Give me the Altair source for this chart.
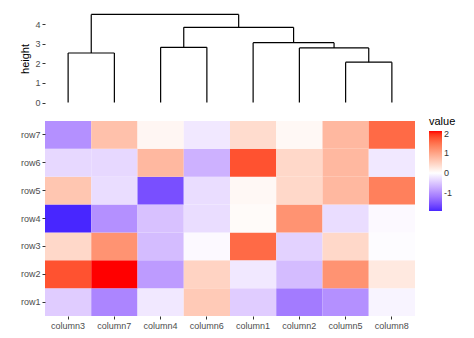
import altair as alt
import pandas as pd

columns = ["column3", "column7", "column4", "column6", "column1", "column2", "column5", "column8"]
rows = ["row1", "row2", "row3", "row4", "row5", "row6", "row7"]

row7 = [-1.0, 0.7, 0.1, -0.2, 0.4, 0.08, 0.8, 1.6]
row6 = [-0.35, -0.35, 0.8, -0.7, 1.8, 0.45, 0.8, -0.2]
row5 = [0.65, -0.3, -1.6, -0.3, 0.08, 0.45, 0.8, 1.4]
row4 = [-1.94, -1.0, -0.55, -0.3, 0.05, 1.2, -0.3, -0.05]
row3 = [0.45, 1.2, -0.6, -0.05, 1.6, -0.4, 0.45, -0.03]
row2 = [1.8, 2.15, -0.9, 0.5, -0.2, -0.6, 1.2, 0.25]
row1 = [-0.45, -1.1, -0.2, 0.6, -0.45, -1.2, -1.0, -0.1]
row_values = [row1, row2, row3, row4, row5, row6, row7]

# dendrogram merges: (left, right, height); "mN" refers to the N-th merge
merges = [
    ("column5", "column8", 2.06),
    ("column3", "column7", 2.53),
    ("column2", "m0", 2.79),
    ("column4", "column6", 2.82),
    ("column1", "m2", 3.06),
    ("m3", "m4", 3.84),
    ("m1", "m5", 4.5),
]

# ---- build tables ----
heat = pd.DataFrame(
    [{"row": r, "column": c, "value": v}
     for r, vals in zip(rows, row_values) for c, v in zip(columns, vals)]
)

pos = {c: (i + 1, 0.0) for i, c in enumerate(columns)}
segs = []
for k, (a, b, h) in enumerate(merges):
    xa, ha = pos[a]
    xb, hb = pos[b]
    segs.append({"x": xa, "x2": xa, "y": ha, "y2": h})
    segs.append({"x": xb, "x2": xb, "y": hb, "y2": h})
    segs.append({"x": xa, "x2": xb, "y": h, "y2": h})
    pos[f"m{k}"] = ((xa + xb) / 2, h)
dend = pd.DataFrame(segs)

FONT = "Liberation Sans"
W = 370
DH = 97
SP = 14

dendro = alt.Chart(dend).mark_rule(color="black", strokeWidth=1.2).encode(
    x=alt.X("x:Q", scale=alt.Scale(domain=[0.5, 8.5], nice=False, zero=False), axis=None),
    x2="x2:Q",
    y=alt.Y("y:Q", scale=alt.Scale(domain=[-0.225, 4.725], nice=False, zero=False),
            axis=alt.Axis(values=[0, 1, 2, 3, 4], title="height", grid=False, domain=False,
                          tickColor="#333333", tickSize=3, labelColor="#4D4D4D",
                          labelFontSize=9, titleFontSize=11, titleFontWeight="normal",
                          labelPadding=2, titlePadding=4, format="d")),
    y2="y2:Q",
).properties(width=W, height=DH)

heatmap = alt.Chart(heat).mark_rect(strokeWidth=0).encode(
    x=alt.X("column:N", sort=columns, scale=alt.Scale(paddingInner=0, paddingOuter=0),
            axis=alt.Axis(title=None, labelAngle=0, domain=False, tickColor="#333333",
                          tickSize=3, labelColor="#4D4D4D", labelFontSize=9, labelPadding=2)),
    y=alt.Y("row:N", sort=list(reversed(rows)), scale=alt.Scale(paddingInner=0, paddingOuter=0),
            axis=alt.Axis(title=None, domain=False, tickColor="#333333", tickSize=3,
                          labelColor="#4D4D4D", labelFontSize=9, labelPadding=2)),
    color=alt.Color("value:Q",
                    scale=alt.Scale(domain=[-1.94, 2.15], domainMid=0,
                                    range=["#4826FF", "#FFFFFF", "#FF0000"],
                                    interpolate="lab"),
                    legend=alt.Legend(title="value", values=[-1, 0, 1, 2],
                                      labelExpr="replace(format(datum.value, 'd'), '\u2212', '-')",
                                      gradientLength=80, gradientThickness=13,
                                      titleFontSize=11, titleFontWeight="normal",
                                      labelFontSize=9, labelColor="#333333",
                                      orient="none", legendX=W + 14, legendY=DH + SP - 5,
                                      titlePadding=4, gradientStrokeWidth=0,
                                      direction="vertical")),
).properties(width=W, height=195)

chart = alt.vconcat(dendro, heatmap, spacing=SP, bounds="flush").properties(
    padding={"left": 19, "top": 10, "right": 5, "bottom": 5}
).configure(font=FONT).configure_view(stroke=None)

chart.save("out.html", embed_options={"renderer": "svg", "actions": False})
